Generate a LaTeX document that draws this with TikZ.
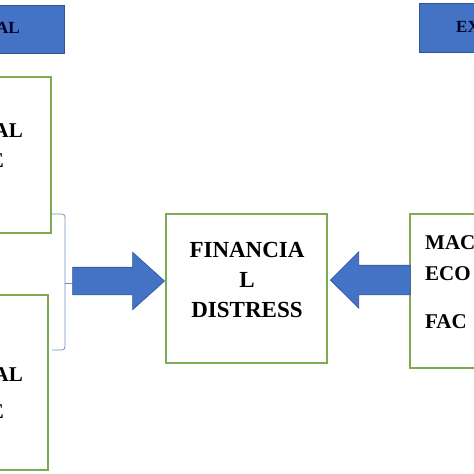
\documentclass[tikz,border=0pt]{standalone}
\usepackage{fontspec}
\setmainfont{Liberation Serif}
\usetikzlibrary{shapes.arrows, positioning}
\definecolor{hdrblue}{HTML}{4472C4}
\definecolor{hdrline}{HTML}{2F5597}
\definecolor{boxgreen}{HTML}{7DAA55}
\definecolor{brline}{HTML}{6F8DC2}
\tikzset{
  greenbox/.style={draw=boxgreen, line width=2pt, fill=white, inner sep=0pt},
  header/.style={draw=hdrline, fill=hdrblue, line width=1pt, inner sep=0pt},
  hdrtext/.style={font=\bfseries\fontsize{17}{20}\selectfont, text=black!85!blue, inner sep=0pt},
  boxtext/.style={font=\bfseries\fontsize{21}{25}\selectfont, inner sep=0pt},
  blockarrow/.style={single arrow, draw=hdrline, fill=hdrblue, line width=0.6pt, inner xsep=0pt},
  bracket/.style={draw=brline, line width=0.8pt, rounded corners=3pt}
}
\begin{document}
\begin{tikzpicture}[x=1pt,y=-1pt]
\useasboundingbox (0,0) rectangle (474,474);
\clip (0,0) rectangle (474,474);
% headers
\node[header, minimum width=100, minimum height=48] (inthdr) at (14,29) {};
\node[hdrtext, anchor=base east] (inttxt) at (20,33) {AL};
\node[header, minimum width=100, minimum height=49] (exthdr) at (469,27.5) {};
\node[hdrtext, anchor=base west] (exttxt) at (456,32) {EX};
% left boxes
\node[greenbox, minimum width=151, minimum height=156] (ftop) at (-24.5,155) {};
\node[boxtext, anchor=base east] (ftopa) at (23,137) {AL};
\node[boxtext, anchor=base east] (ftopb) at (4,167) {E};
\node[greenbox, minimum width=148, minimum height=175] (fbot) at (-26,382.5) {};
\node[boxtext, anchor=base east] (fbota) at (23,381) {AL};
\node[boxtext, anchor=base east] (fbotb) at (4,418) {E};
% centre box
\node[greenbox, minimum width=161, minimum height=149] (distress) at (246.5,288.5) {};
\node[align=center, anchor=north, inner sep=0pt,
      font=\bfseries\fontsize{23}{30}\selectfont] (distxt) at (247,242) {FINANCIA\\L\\DISTRESS};
% right box
\node[greenbox, minimum width=150, minimum height=154] (macro) at (485,291) {};
\node[boxtext, anchor=base west] (macroa) at (425,249) {MAC};
\node[boxtext, anchor=base west] (macrob) at (425,280) {ECO};
\node[boxtext, anchor=base west] (macroc) at (425,328) {FAC};
% bracket
\coordinate (brtop) at (65,214);
\coordinate (brbot) at (65,350);
\coordinate (brmid) at (65,283);
\coordinate (brtip) at (73,283);
\draw[bracket] (ftop.east |- brtop) -- (brtop) -- (brbot) -- (ftop.east |- brbot);
\draw[bracket] (brmid) -- (brtip);
% arrows
\node[blockarrow, inner ysep=13.5pt, single arrow head extend=15pt, single arrow tip angle=84,
      minimum height=92, anchor=tip] (inarrow) at (165,281) {};
\node[blockarrow, inner ysep=14.5pt, single arrow head extend=13.5pt, single arrow tip angle=90,
      minimum height=80, shape border rotate=180, anchor=tip] (exarrow) at (330,280) {};
\end{tikzpicture}
\end{document}
